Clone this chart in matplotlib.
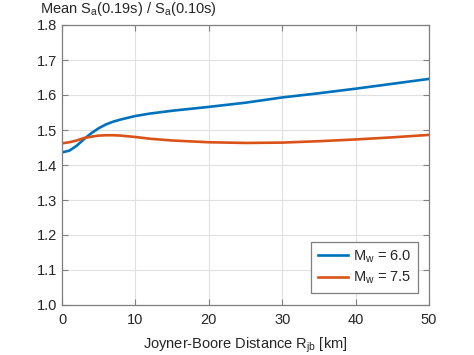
import matplotlib
matplotlib.use("Agg")
import matplotlib.pyplot as plt

plt.rcParams['font.family'] = ['Liberation Sans', 'DejaVu Sans']
plt.rcParams['mathtext.fontset'] = 'custom'
plt.rcParams['mathtext.rm'] = 'Liberation Sans'
plt.rcParams['mathtext.it'] = 'Liberation Sans'

distance = [0, 1, 2, 3, 4, 5, 6, 7, 8, 10, 12, 15, 20, 25, 30, 35, 40, 45, 50]
ratio_m60 = [1.436, 1.441, 1.455, 1.474, 1.491, 1.505, 1.516, 1.524, 1.530, 1.540,
             1.547, 1.555, 1.566, 1.578, 1.593, 1.605, 1.618, 1.632, 1.646]
ratio_m75 = [1.462, 1.465, 1.470, 1.477, 1.481, 1.484, 1.485, 1.485, 1.484, 1.480,
             1.475, 1.470, 1.465, 1.463, 1.464, 1.468, 1.473, 1.479, 1.486]
xticks = [0, 10, 20, 30, 40, 50]
yticks = [1.0, 1.1, 1.2, 1.3, 1.4, 1.5, 1.6, 1.7, 1.8]

fig = plt.figure(figsize=(4.74, 3.55), dpi=100)
ax = fig.add_axes([62/474, 1 - 305/355, (429 - 62)/474, (305 - 25)/355])

ax.plot(distance, ratio_m60, color='#0072BD', lw=1.9, label=r'M$_\mathrm{w}$ = 6.0')
ax.plot(distance, ratio_m75, color='#D95319', lw=1.9, label=r'M$_\mathrm{w}$ = 7.5')

ax.set_xlim(0, 50)
ax.set_ylim(1.0, 1.8)
ax.set_xticks(xticks)
ax.set_yticks(yticks)
ax.set_yticklabels([f'{v:.1f}' for v in yticks])
ax.grid(True, color='#e0e0e0', lw=0.8)
ax.set_axisbelow(True)
for s in ax.spines.values():
    s.set_color('#7f7f7f')
    s.set_linewidth(0.9)
ax.tick_params(direction='in', length=4, color='#7f7f7f', labelsize=10.5,
               labelcolor='#262626', top=True, right=True, labeltop=False, labelright=False)
ax.tick_params(axis='x', pad=6)

ax.set_xlabel(r'Joyner-Boore Distance R$_\mathrm{jb}$ [km]', fontsize=10.5, color='#262626', labelpad=6)
fig.text(40/474, 1 - 13/355, r'Mean S$_\mathrm{a}$(0.19s) / S$_\mathrm{a}$(0.10s)',
         fontsize=10.5, color='#262626', ha='left', va='baseline')

leg = ax.legend(loc='lower right', bbox_to_anchor=(0.970, 0.043), fontsize=10.5,
                fancybox=False, framealpha=1, edgecolor='#7f7f7f', handlelength=2.1,
                borderpad=0.45, labelspacing=0.35, handletextpad=0.3, borderaxespad=0)
leg.get_frame().set_linewidth(0.9)
for t in leg.get_texts():
    t.set_color('#262626')

fig.savefig('out.png', dpi=100)
